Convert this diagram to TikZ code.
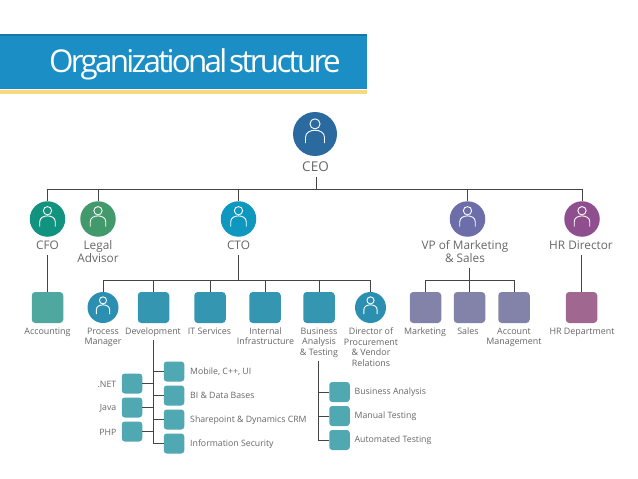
\documentclass[tikz,border=0pt]{standalone}
\usepackage{fontspec}
\setmainfont{Open Sans}
\newfontfamily\titlefont[LetterSpace=-8.7,WordSpace=0.35]{Open Sans}
\definecolor{banner}{HTML}{1B8EC6}
\definecolor{bannertop}{HTML}{1A78A8}
\definecolor{stripe}{HTML}{F8D97E}
\definecolor{txt}{HTML}{666666}
\definecolor{lin}{HTML}{444444}
\definecolor{cCEO}{HTML}{2A6A9E}
\definecolor{cCFO}{HTML}{12937F}
\definecolor{cLEG}{HTML}{429A6C}
\definecolor{cCTO}{HTML}{0E97BF}
\definecolor{cVP}{HTML}{6B6EA8}
\definecolor{cHR}{HTML}{8F4F8F}
\definecolor{cPM}{HTML}{2A8FB0}
\definecolor{bACC}{HTML}{4FA8A0}
\definecolor{bDEV}{HTML}{3596B2}
\definecolor{bSUB}{HTML}{4FA8B2}
\definecolor{bVP}{HTML}{8382A8}
\definecolor{bHR}{HTML}{A06890}
\tikzset{
  x=1pt,y=-1pt,
  conn/.style={draw=lin,line width=0.9pt},
  person/.style={circle,inner sep=0pt,minimum size=#1},
  bigbox/.style={rectangle,rounded corners=3.5pt,inner sep=0pt,minimum width=31.5pt,minimum height=31pt},
  subbox/.style={rectangle,rounded corners=3pt,inner sep=0pt,minimum width=20.5pt,minimum height=20pt},
  toplabel/.style={text=txt,align=center,inner sep=0pt,font=\fontsize{11.8}{13.2}\selectfont},
  lowlabel/.style={text=txt,align=center,inner sep=0pt,font=\fontsize{8.9}{10.5}\selectfont,anchor=north},
  sidelabel/.style={text=txt,inner sep=0pt,font=\fontsize{8.75}{11}\selectfont},
  icon/.style={draw=white,line width=0.9pt,fill=none}
}
\newcommand\personicon[2]{%
  \draw[icon,shift={(#1)},scale=#2] (0,-0.46) circle[radius=0.23];
  \draw[icon,shift={(#1)},scale=#2] (-0.43,0.42) -- (-0.43,0.15) .. controls (-0.43,-0.28) and (0.43,-0.28) .. (0.43,0.15) -- (0.43,0.42);
}
\begin{document}
\begin{tikzpicture}
\useasboundingbox (0,0) rectangle (638,479);
% banner
\fill[banner] (0,34) rectangle (367,88.5);
\fill[bannertop] (0,34) rectangle (367,36);
\fill[stripe] (0,90) rectangle (367,93.5);
\node[anchor=base west,inner sep=0pt,text=white,font=\titlefont\fontsize{31.4}{33}\selectfont] (title) at (49,72) {Organizational structure};
% level 1
\node[person=44pt,fill=cCEO] (ceo) at (315,134) {};
\node[toplabel,font=\fontsize{13.5}{15}\selectfont] (ceolbl) at (315.5,167) {CEO};
\node[person=35.5pt,fill=cCFO] (cfo) at (47.5,219) {};
\node[person=35.5pt,fill=cLEG] (legal) at (98,219) {};
\node[person=35.5pt,fill=cCTO] (cto) at (238.5,219) {};
\node[person=35.5pt,fill=cVP] (vp) at (467.5,219) {};
\node[person=35.5pt,fill=cHR] (hr) at (582,219) {};
\node[toplabel,anchor=north] (cfolbl) at (47.5,240.7) {CFO};
\node[toplabel,anchor=north] (legallbl) at (98,240) {Legal\\Advisor};
\node[toplabel,anchor=north] (ctolbl) at (238.5,240.7) {CTO};
\node[toplabel,anchor=north] (vplbl) at (465,240) {VP of Marketing\\\& Sales};
\node[toplabel,anchor=north] (hrlbl) at (581,240.5) {HR Director};
% level 2
\node[bigbox,fill=bACC] (acc) at (47.5,307.5) {};
\node[person=31pt,fill=cPM] (pm) at (103,307.5) {};
\node[bigbox,fill=bDEV] (dev) at (153.5,307.5) {};
\node[bigbox,fill=bDEV] (its) at (210,307.5) {};
\node[bigbox,fill=bDEV] (inf) at (265,307.5) {};
\node[bigbox,fill=bDEV] (bat) at (319,307.5) {};
\node[person=31pt,fill=cPM] (dir) at (370.5,307.5) {};
\node[bigbox,fill=bVP] (mkt) at (425.5,307.5) {};
\node[bigbox,fill=bVP] (sal) at (469.5,307.5) {};
\node[bigbox,fill=bVP] (acm) at (514,307.5) {};
\node[bigbox,fill=bHR] (hrd) at (581.5,307.5) {};
\node[lowlabel] (acclbl) at (47.5,327.5) {Accounting};
\node[lowlabel] (pmlbl) at (103,327.5) {Process\\Manager};
\node[lowlabel] (devlbl) at (153,327.5) {Development};
\node[lowlabel] (itslbl) at (209.5,327.5) {IT Services};
\node[lowlabel] (inflbl) at (265.5,327.5) {Internal\\Infrastructure};
\node[lowlabel] (batlbl) at (319,327.5) {Business\\Analysis\\\& Testing};
\node[lowlabel] (dirlbl) at (371,327.5) {Director of\\Procurement\\\& Vendor\\Relations};
\node[lowlabel] (mktlbl) at (425,327.5) {Marketing};
\node[lowlabel] (sallbl) at (468,327.5) {Sales};
\node[lowlabel] (acmlbl) at (514,327.5) {Account\\Management};
\node[lowlabel] (hrdlbl) at (582,327.5) {HR Department};
% development children
\node[subbox,fill=bSUB] (mob) at (174,371.5) {};
\node[subbox,fill=bSUB] (bid) at (174,395.5) {};
\node[subbox,fill=bSUB] (shp) at (174,419.5) {};
\node[subbox,fill=bSUB] (sec) at (174,443.5) {};
\node[subbox,fill=bSUB] (net) at (132,383.5) {};
\node[subbox,fill=bSUB] (jav) at (132,407.5) {};
\node[subbox,fill=bSUB] (php) at (132,431.5) {};
\node[sidelabel,anchor=west] (moblbl) at (190,371.5) {Mobile, C++, UI};
\node[sidelabel,anchor=west] (bidlbl) at (190,395.5) {BI \& Data Bases};
\node[sidelabel,anchor=west] (shplbl) at (190,420) {Sharepoint \& Dynamics CRM};
\node[sidelabel,anchor=west] (seclbl) at (190,444) {Information Security};
\node[sidelabel,anchor=east] (netlbl) at (116.5,384) {.NET};
\node[sidelabel,anchor=east] (javlbl) at (116.5,408) {Java};
\node[sidelabel,anchor=east] (phplbl) at (116.5,432.5) {PHP};
% BA children
\node[subbox,fill=bSUB] (baa) at (339.5,392) {};
\node[subbox,fill=bSUB] (man) at (339.5,416) {};
\node[subbox,fill=bSUB] (aut) at (339.5,440) {};
\node[sidelabel,anchor=west] (baalbl) at (354.5,392) {Business Analysis};
\node[sidelabel,anchor=west] (manlbl) at (354.5,416) {Manual Testing};
\node[sidelabel,anchor=west] (autlbl) at (354.5,440) {Automated Testing};
% icons
\personicon{ceo}{22}
\personicon{cfo}{18}
\personicon{legal}{18}
\personicon{cto}{18}
\personicon{vp}{18}
\personicon{hr}{18}
\personicon{pm}{15.5}
\personicon{dir}{15.5}
% connectors
\coordinate (topbus) at (316,189);
\coordinate (ceodrop) at (316,177);
\coordinate (accdrop) at (47.5,255);
\coordinate (hrddrop) at (581.5,255);
\coordinate (ctodrop) at (238.5,255);
\coordinate (vpdrop) at (469.5,268);
\coordinate (ctobus) at (238.5,280);
\coordinate (vpbus) at (469.5,280);
\coordinate (devtrunk) at (153.5,340);
\coordinate (battrunk) at (318.5,361);
\draw[conn] (ceodrop) -- (topbus);
\draw[conn] (topbus) -| (cfo);
\draw[conn] (topbus) -| (legal);
\draw[conn] (topbus) -| (cto);
\draw[conn] (topbus) -| (vp);
\draw[conn] (topbus) -| (hr);
\draw[conn] (accdrop) -- (acc);
\draw[conn] (hrddrop) -- (hrd);
\draw[conn] (ctodrop) -- (ctobus);
\draw[conn] (vpdrop) -- (vpbus);
\draw[conn] (ctobus) -| (pm);
\draw[conn] (ctobus) -| (dev);
\draw[conn] (ctobus) -| (its);
\draw[conn] (ctobus) -| (inf);
\draw[conn] (ctobus) -| (bat);
\draw[conn] (ctobus) -| (dir);
\draw[conn] (vpbus) -| (mkt);
\draw[conn] (vpbus) -- (sal);
\draw[conn] (vpbus) -| (acm);
\draw[conn] (devtrunk) |- (mob);
\draw[conn] (devtrunk) |- (bid);
\draw[conn] (devtrunk) |- (shp);
\draw[conn] (devtrunk) |- (sec);
\draw[conn] (devtrunk |- net) -- (net);
\draw[conn] (devtrunk |- jav) -- (jav);
\draw[conn] (devtrunk |- php) -- (php);
\draw[conn] (battrunk) |- (baa);
\draw[conn] (battrunk) |- (man);
\draw[conn] (battrunk) |- (aut);
\end{tikzpicture}
\end{document}
